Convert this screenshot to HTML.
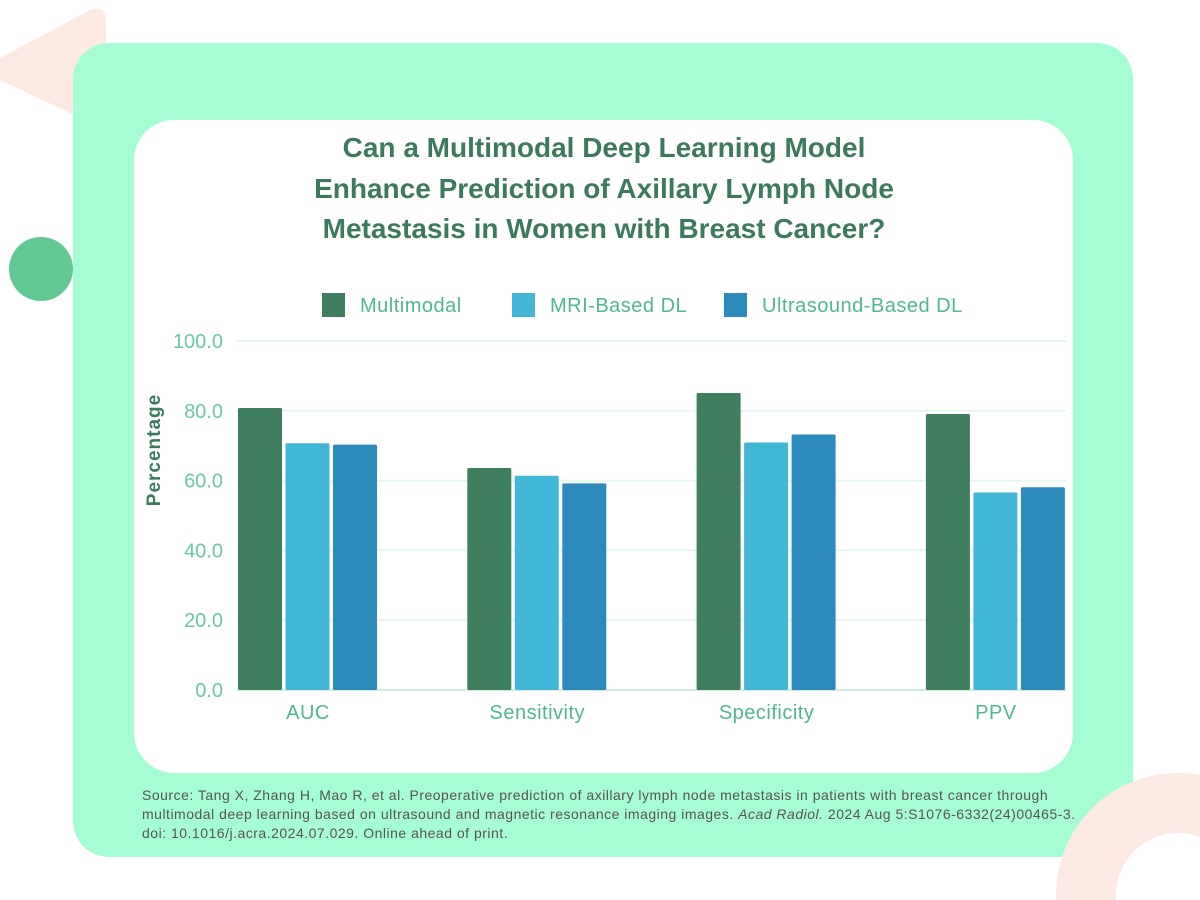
<!DOCTYPE html>
<html><head><meta charset="utf-8"><style>
html,body{margin:0;width:1200px;height:900px;overflow:hidden}
body{background:#fff;position:relative;font-family:"Liberation Sans",sans-serif}
.abs{position:absolute}
</style></head><body>
<svg class="abs" style="left:0;top:0" width="1200" height="900">
<path d="M0,58 L90,10 Q105,5 106,20 L106,130 L0,80 Z" fill="#fde9e4"/>
<rect x="73" y="43" width="1060" height="814" rx="36" fill="#a6fdd4"/>
<circle cx="41" cy="269" r="32" fill="#62c994"/>
<circle cx="1178" cy="895" r="122" fill="#fde9e4"/>
<circle cx="1178" cy="895" r="62" fill="#fff"/>
<rect x="134" y="120" width="939" height="653" rx="40" fill="#fff"/>
</svg>
<div class="abs" style="left:204px;width:800px;top:128px;text-align:center;font-weight:bold;font-size:28px;line-height:40.5px;color:#3d7a5c">Can a Multimodal Deep Learning Model<br>Enhance Prediction of Axillary Lymph Node<br>Metastasis in Women with Breast Cancer?</div>
<div class="abs" style="left:142px;top:786px;white-space:nowrap;font-size:14px;letter-spacing:0.5px;line-height:19px;color:#555">Source: Tang X, Zhang H, Mao R, et al. Preoperative prediction of axillary lymph node metastasis in patients with breast cancer through<br>multimodal deep learning based on ultrasound and magnetic resonance imaging images. <i>Acad Radiol.</i> 2024 Aug 5:S1076-6332(24)00465-3.<br>doi: 10.1016/j.acra.2024.07.029. Online ahead of print.</div>
<svg id="chart" class="abs" style="left:0;top:0" width="1200" height="900"></svg>
<script>
const categories=["AUC","Sensitivity","Specificity","PPV"];
const multimodal=[80.8,63.6,85.1,79.1];
const mriDL=[70.7,61.4,70.9,56.6];
const usDL=[70.3,59.2,73.2,58.1];
const ticks=[0,20,40,60,80,100];
const seriesNames=["Multimodal","MRI-Based DL","Ultrasound-Based DL"];
const colors=["#3e7e5e","#42b6d6","#2d8abc"];
const NS="http://www.w3.org/2000/svg";
const svg=document.getElementById('chart');
const y=v=>690-v*3.49;
const cx=i=>308+i*229.3;
function mk(t,a){const e=document.createElementNS(NS,t);for(const k in a)e.setAttribute(k,a[k]);svg.appendChild(e);return e;}
ticks.forEach(t=>{
 const l=mk('line',{x1:237,x2:1066,y1:y(t),y2:y(t),stroke:t===0?'#cfeee0':'#e6f6ef','stroke-width':2});
 
 
 const tx=mk('text',{x:223,y:y(t)+7,'text-anchor':'end','font-size':20,fill:'#6cc9a0','font-family':'Liberation Sans'});
 tx.textContent=t.toFixed(1);
 
 
});
const yt=mk('text',{x:0,y:0,transform:'translate(160,450) rotate(-90)','text-anchor':'middle','font-size':19,'font-weight':'bold',fill:'#3d7a5c','font-family':'Liberation Sans','letter-spacing':1});
yt.textContent='Percentage';


const series=[multimodal,mriDL,usDL];
categories.forEach((c,i)=>{
 series.forEach((s,j)=>{
  const x=cx(i)-70+j*47.5;
  const r=mk('rect',{x:x,y:y(s[i]),width:44,height:690-y(s[i]),fill:colors[j],rx:1.5});
  
  
 });
 const tx=mk('text',{x:cx(i),y:719,'text-anchor':'middle','font-size':20,fill:'#4fb98a','font-family':'Liberation Sans','letter-spacing':0.5});
 tx.textContent=c;
 
 
});
const lx=[322,512,724];
seriesNames.forEach((n,j)=>{
 const r=mk('rect',{x:lx[j],y:293,width:23,height:24,fill:colors[j]});
 
 
 const t=mk('text',{x:lx[j]+38,y:312,'font-size':20,fill:'#4fb98a','font-family':'Liberation Sans','letter-spacing':0.5});
 t.textContent=n;
 
 
});
</script>
</body></html>
